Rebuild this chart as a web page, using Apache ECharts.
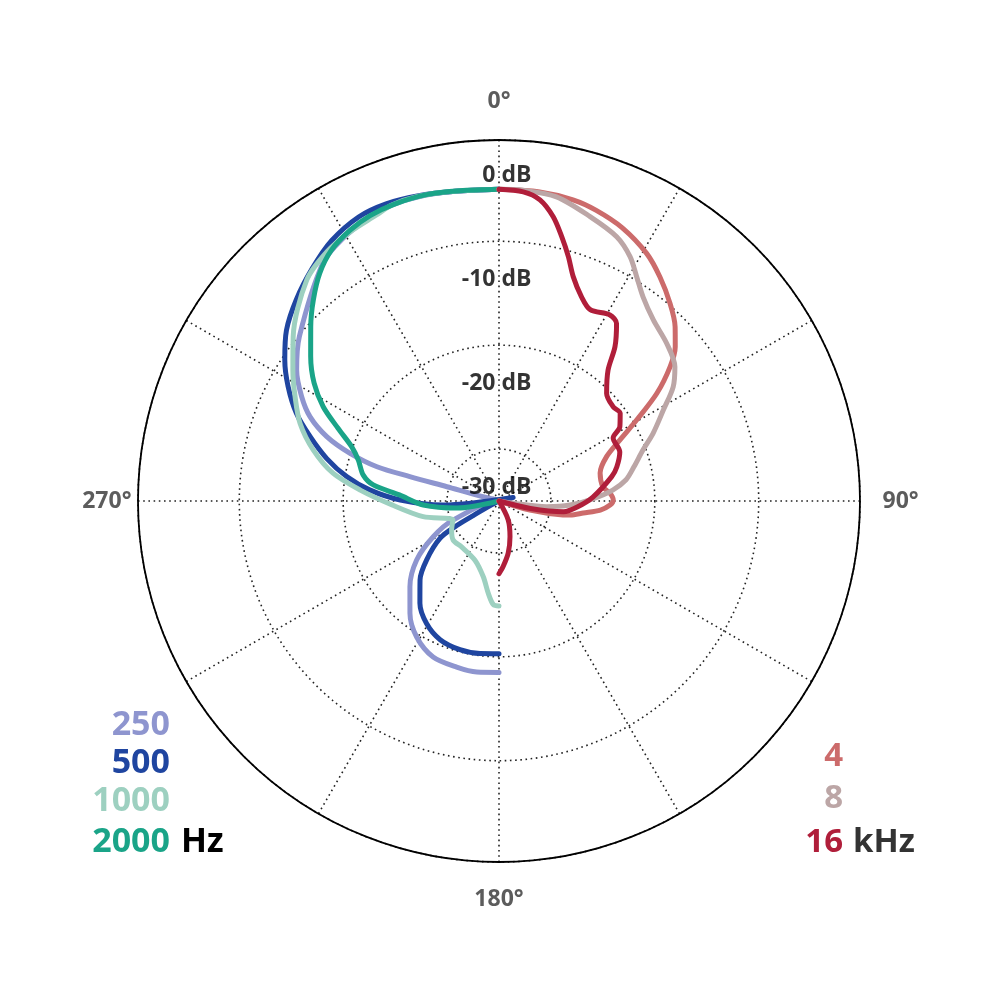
<!DOCTYPE html>
<html><head><meta charset="utf-8">
<script src="https://cdn.jsdelivr.net/npm/echarts/dist/echarts.min.js"></script>
<style>html,body{margin:0;padding:0;background:#fff}#c{width:1000px;height:1000px}</style>
</head><body><div id="c"></div>
<script>
// radial scale (dB) and tick labels
const rMin = -30, rMax = 4.75;
const dbLabels = [0, -10, -20, -30];
const angleLabels = [0, 90, 180, 270];

// [dB, angle(deg, clockwise from front)]
const hz250 = [[0,360],[0.1,352],[0.3,345],[0.3,340],[0,335.3],[-0.6,329.2],[-1.5,323.5],[-5.1,309.5],[-6.8,302.9],[-8.5,297.9],[-10.1,294],[-12.3,290.5],[-14.9,287.8],[-17.8,285.7],[-21.1,285.3],[-24.8,285.3],[-28.5,285],[-31.5,280],[-30,250],[-25.2,247.4],[-22.8,241.5],[-20.25,234.4],[-18.1,226.1],[-16.2,218.4],[-14.7,211.2],[-13.7,202.9],[-13.5,194.3],[-13.4,187.4],[-13.5,180]];
const hz500 = [[0,360],[0.1,352],[0.4,345],[0.6,339.2],[0.5,333.7],[-0.2,327.3],[-1.3,321.2],[-2.5,314.8],[-3.75,308.8],[-5.3,303.4],[-6.9,298.5],[-8.75,293.4],[-10.8,288.8],[-12.9,283.9],[-15.15,279.1],[-17.5,274.9],[-20.5,270.6],[-24.6,265.9],[-31.4,256],[-30,243],[-27.1,240.5],[-25.3,239.8],[-23.3,237.7],[-21.0,230.8],[-19.25,225],[-17.55,217.7],[-16.3,210.6],[-15.5,203],[-15.2,194.7],[-15.2,187.1],[-15.3,180]];
const hz1000 = [[0,360],[0.1,352],[0.35,345],[0.3,340],[-0.05,336.8],[-0.4,331],[-0.85,325.4],[-1.8,319],[-4.65,308.6],[-6.5,302.4],[-7.95,297.1],[-9.45,291.3],[-11.45,285.4],[-13.8,279.5],[-16.6,274.5],[-19.7,267.9],[-22.55,258.3],[-25.2,247.6],[-24.65,238.5],[-24.2,229.5],[-24.3,219.2],[-23.85,202.1],[-22.55,191.7],[-21.05,186.6],[-20.0,183.1],[-19.9,180]];
const hz2000 = [[0,360],[0.1,352.8],[0.3,346.7],[0.3,340.5],[0.15,335.7],[-0.25,331.2],[-0.95,326.3],[-2.1,321.8],[-3.65,317.3],[-5.3,312.8],[-7.15,307.5],[-8.9,302.5],[-10.8,298.2],[-13.0,294.3],[-14.9,290.2],[-15.9,286.2],[-16.7,280.8],[-17.8,277.3],[-20.4,273.5],[-22.7,267],[-25.9,260.5],[-30,252],[-30,180]];
const khz4 = [[0,0],[0,7.5],[-0.15,13.8],[-0.5,18.5],[-1.15,24.3],[-2.25,30.8],[-3.45,35.7],[-4.85,40.9],[-6.15,45.3],[-7.45,48.8],[-9.05,51.85],[-11.6,55.7],[-14.6,59.5],[-16.95,63.2],[-18.8,67.6],[-19.9,74.5],[-19.9,82.3],[-19.3,85.9],[-19.0,89.5],[-19.3,92.1],[-20.2,95.1],[-21.8,98.1],[-23.0,101.2],[-23.7,102.3],[-26.9,106.2],[-30,112],[-30,180]];
const khz8 = [[0,0],[0,4.5],[-0.2,10.7],[-1.25,17.75],[-2.15,24],[-3.3,28.2],[-4.65,31.5],[-5.95,35.2],[-7.1,40.45],[-7.85,46.8],[-8.7,52.65],[-9.95,56.75],[-11.9,61],[-13.8,66.3],[-15.3,70.5],[-16.6,75.8],[-17.6,80.5],[-19.0,84.5],[-20.9,88.5],[-23.15,93.2],[-25.4,96.8],[-28.6,99],[-30,102],[-30,180]];
const khz16 = [[0,0],[-0.15,4.5],[-0.75,7.75],[-2.15,10.8],[-3.85,13.35],[-5.55,15.85],[-7.25,18.3],[-8.8,22],[-9.6,25.5],[-9.15,30.8],[-9.5,33.5],[-11.4,36.9],[-13.6,39.8],[-15.35,45],[-15.75,50.5],[-15.6,54.1],[-16.35,58.45],[-17.45,61.1],[-17.45,67.9],[-18.2,73.9],[-18.9,77.8],[-20.95,87.6],[-22.45,94.4],[-23.7,99.4],[-26.9,103.3],[-30,110],[-30,145],[-28,153.9],[-26.4,162.9],[-24.9,170],[-23.7,176.3],[-23.0,180]];

const lowNames = ['250','500','1000','2000'];
const lowColors = ['#8e95cf','#1f45a0','#9dd0c0','#1aa488'];
const highNames = ['4','8','16'];
const highColors = ['#cc6b6b','#bca6a6','#b01e3a'];
const lowData = [hz250, hz500, hz1000, hz2000];
const highData = [khz4, khz8, khz16];

const FONT = '"Open Sans", "Noto Sans", sans-serif';

const chart = echarts.init(document.getElementById('c'), null, {renderer:'canvas'});

function curve(name, data, color){
  return {type:'line', name, coordinateSystem:'polar', data, symbol:'none', showSymbol:false,
    smooth:0.3, clip:false, silent:true, animation:false, z:3,
    lineStyle:{color, width:5, cap:'round', join:'round'}};
}

const series = [];
lowNames.forEach((n,i)=>series.push(curve(n+' Hz', lowData[i], lowColors[i])));
highNames.forEach((n,i)=>series.push(curve(n+' kHz', highData[i], highColors[i])));

// dB labels along the 0° axis
series.push({type:'scatter', coordinateSystem:'polar', symbolSize:1, silent:true, animation:false, z:5,
  itemStyle:{color:'rgba(0,0,0,0)'},
  data: dbLabels.map(v=>[v,0]),
  label:{show:true, formatter:p=>p.value[0]+' dB', position:[33,-2], align:'right', verticalAlign:'bottom',
    fontFamily:FONT, fontSize:23, fontWeight:'bold', color:'#000'}
});
// angle labels
const angPos = {0:['top',27], 90:['right',22], 180:['bottom',25], 270:['left',6]};
series.push({type:'scatter', coordinateSystem:'polar', symbolSize:1, silent:true, animation:false, z:5,
  itemStyle:{color:'rgba(0,0,0,0)'},
  data: angleLabels.map(a=>({value:[rMax,a], label:{position:angPos[a][0], distance:angPos[a][1]}})),
  label:{show:true, formatter:p=>p.value[1]+'°', fontFamily:FONT, fontSize:23, fontWeight:'bold', color:'#333'}
});

const graphic = [];
const LF = 'bold 34px ' + FONT;
const lowY = [725, 763, 801, 842];
lowNames.forEach((n,i)=>graphic.push({type:'text', x:170, y:lowY[i], silent:true,
  style:{text:n, fill:lowColors[i], font:LF, textAlign:'right', textVerticalAlign:'middle'}}));
graphic.push({type:'text', x:181, y:842, silent:true, style:{text:'Hz', fill:'#000', font:LF, textAlign:'left', textVerticalAlign:'middle'}});
const highY = [757, 799, 843];
highNames.forEach((n,i)=>graphic.push({type:'text', x:843, y:highY[i], silent:true,
  style:{text:n, fill:highColors[i], font:'bold 33px ' + FONT, textAlign:'right', textVerticalAlign:'middle'}}));
graphic.push({type:'text', x:853, y:843, silent:true, style:{text:'kHz', fill:'#333', font:'bold 33px ' + FONT, textAlign:'left', textVerticalAlign:'middle'}});

chart.setOption({
  animation:false,
  backgroundColor:'#fff',
  polar:{center:[499,501], radius:361},
  angleAxis:{type:'value', min:0, max:360, interval:30, startAngle:90, clockwise:true,
    axisLine:{show:true, lineStyle:{color:'#000', width:1.8}},
    axisTick:{show:false}, axisLabel:{show:false},
    splitLine:{show:true, lineStyle:{color:'#222', type:[1.6,3.6], width:1.6}}},
  radiusAxis:{type:'value', min:rMin, max:rMax, interval:5,
    axisLine:{show:false}, axisTick:{show:false}, axisLabel:{show:false},
    splitLine:{show:true, lineStyle:{color:['rgba(0,0,0,0)','#222'], type:[1.6,3.6], width:1.6}}},
  series,
  graphic
});
</script>
</body></html>
